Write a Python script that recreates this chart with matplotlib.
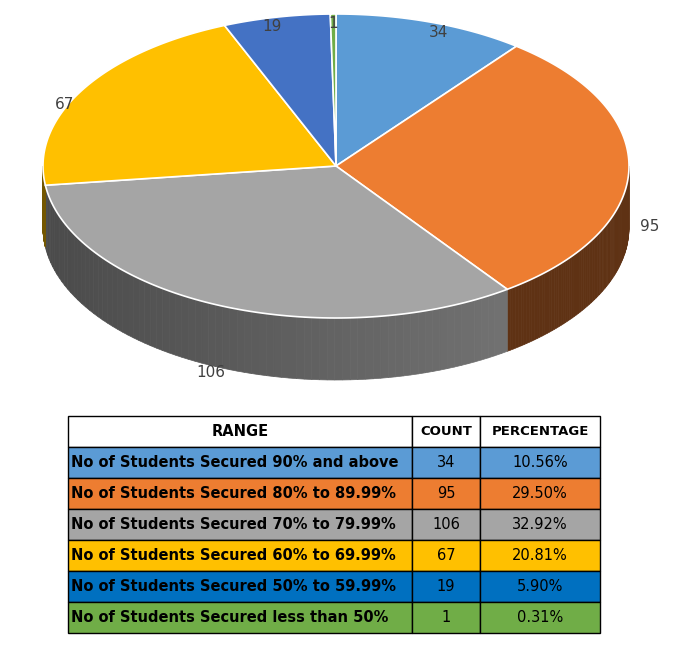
import numpy as np
import matplotlib.pyplot as plt
from matplotlib.patches import Polygon, Rectangle
from matplotlib.colors import to_rgb

ranges = ["No of Students Secured 90% and above",
          "No of Students Secured 80% to 89.99%",
          "No of Students Secured 70% to 79.99%",
          "No of Students Secured 60% to 69.99%",
          "No of Students Secured 50% to 59.99%",
          "No of Students Secured less than 50%"]
counts = [34, 95, 106, 67, 19, 1]
percents = ["10.56%", "29.50%", "32.92%", "20.81%", "5.90%", "0.31%"]
pie_colors = ["#5B9BD5", "#ED7D31", "#A5A5A5", "#FFC000", "#4472C4", "#70AD47"]
row_colors = ["#5B9BD5", "#ED7D31", "#A5A5A5", "#FFC000", "#0070C0", "#70AD47"]

FONT = ["DejaVu Sans"]

fig = plt.figure(figsize=(6.8, 6.49), dpi=100)
ax = fig.add_axes([0, 0, 1, 1])
ax.set_xlim(0, 680)
ax.set_ylim(649, 0)
ax.axis("off")

cx, cy, a, b, depth = 336, 166, 293, 152, 62


def pt(th, dy=0, r=1.0):
    return cx + r * a * np.sin(th), cy - r * b * np.cos(th) + dy


def shade(c, f):
    return tuple(np.clip(np.array(to_rgb(c)) * f, 0, 1))


frac = np.array(counts) / sum(counts)
edges = np.concatenate([[0], np.cumsum(frac)]) * 2 * np.pi

# side walls (front half only), in small strips for gradient shading
for i, col in enumerate(pie_colors):
    t0, t1 = max(edges[i], np.pi / 2), min(edges[i + 1], 3 * np.pi / 2)
    if t1 <= t0:
        continue
    ts = np.linspace(t0, t1, 80)
    for u, v in zip(ts[:-1], ts[1:]):
        x0, y0 = pt(u)
        x1, y1 = pt(v)
        f = 0.75 - 0.3 * (1 - np.sin((u + v) / 2)) / 2
        if col == "#ED7D31":
            f = 0.40
        ax.add_patch(Polygon([(x0, y0), (x1, y1), (x1, y1 + depth), (x0, y0 + depth)],
                             closed=True, fc=shade(col, f), ec=shade(col, f), lw=0.5))

# top face
for i, col in enumerate(pie_colors):
    ts = np.linspace(edges[i], edges[i + 1], 100)
    xy = [(cx, cy)] + [pt(t) for t in ts]
    ax.add_patch(Polygon(xy, closed=True, fc=col, ec="white", lw=1.2))

# value labels
for i, c in enumerate(counts):
    m = (edges[i] + edges[i + 1]) / 2
    x, y = pt(m, r=1.07)
    if np.cos(m) < 0:
        y += depth - 5
    else:
        y += 20
    ax.text(x, y, str(c), ha="center", va="center", fontsize=11, color="#404040")

# table
col_x = [68, 412, 480, 600]
top, rh = 416, 31
headers = ["RANGE", "COUNT", "PERCENTAGE"]
rows = [headers] + [[r, str(c), p] for r, c, p in zip(ranges, counts, percents)]
for j, row in enumerate(rows):
    y = top + j * rh
    for k, txt in enumerate(row):
        fc = "white" if j == 0 else row_colors[j - 1]
        ax.add_patch(Rectangle((col_x[k], y), col_x[k + 1] - col_x[k], rh,
                               fc=fc, ec="black", lw=1))
        bold = "bold" if (j == 0 or k == 0) else "normal"
        size = 10.5 if k == 0 else (9.5 if j == 0 else 10.5)
        if k == 0 and j > 0:
            ax.text(col_x[k] + 3, y + rh / 2, txt, ha="left", va="center",
                    fontsize=size, fontweight=bold, family=FONT)
        else:
            ax.text((col_x[k] + col_x[k + 1]) / 2, y + rh / 2, txt, ha="center",
                    va="center", fontsize=size, fontweight=bold, family=FONT)

fig.savefig("out.png", dpi=100)
